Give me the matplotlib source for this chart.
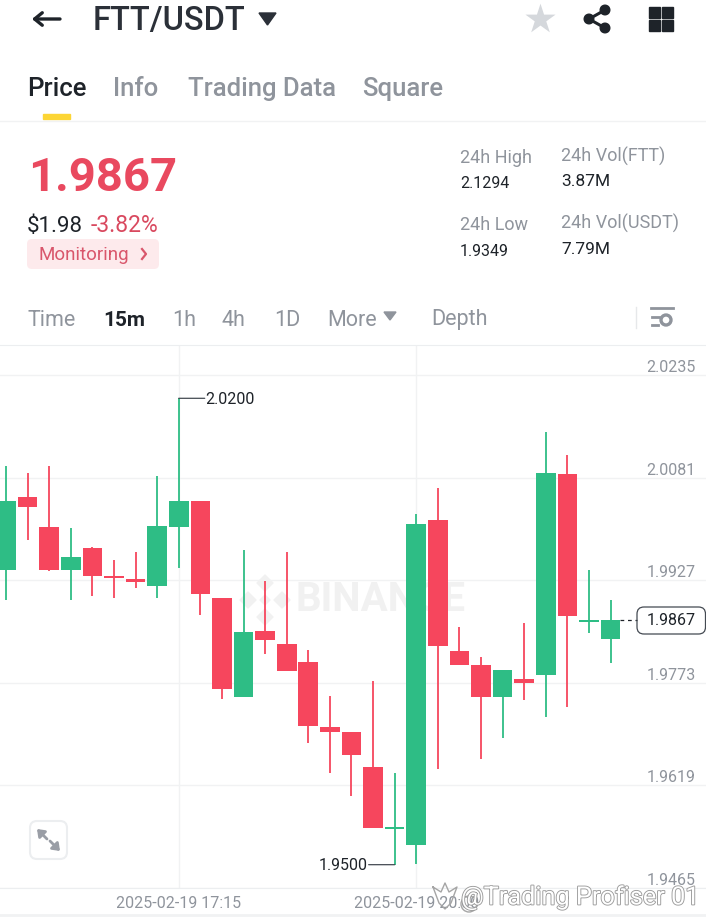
import matplotlib
matplotlib.use("Agg")
from matplotlib import pyplot as plt
from matplotlib.patches import FancyBboxPatch, Rectangle, Circle, Polygon
import matplotlib.patheffects as pe

# candle data
opens = [1.9943, 2.0052, 2.0007, 1.9942, 1.9976, 1.9933, 1.9929, 1.9918, 2.0007, 2.0046,
         1.9900, 1.9752, 1.9850, 1.9831, 1.9804, 1.9707, 1.9699, 1.9647, 1.9554, 1.9530,
         2.0017, 1.9821, 1.9800, 1.9751, 1.9778, 1.9784, 2.0087, 1.9864, 1.9839]
closes = [2.0046, 2.0037, 1.9942, 1.9962, 1.9933, 1.9931, 1.9925, 2.0009, 2.0046, 1.9906,
          1.9763, 1.9849, 1.9837, 1.9790, 1.9708, 1.9699, 1.9664, 1.9555, 1.9556, 2.0012,
          1.9828, 1.9800, 1.9751, 1.9792, 1.9773, 2.0088, 1.9873, 1.9867, 1.9867]
highs = [2.0099, 2.0088, 2.0099, 2.0005, 1.9977, 1.9957, 1.9970, 2.0084, 2.0200, 2.0046,
         1.9900, 1.9973, 1.9926, 1.9969, 1.9822, 1.9753, 1.9699, 1.9776, 1.9638, 2.0026,
         2.0065, 1.9857, 1.9812, 1.9792, 1.9862, 2.0149, 2.0115, 1.9942, 1.9897]
lows = [1.9898, 1.9988, 1.9941, 1.9898, 1.9903, 1.9900, 1.9916, 1.9901, 1.9945, 1.9875,
        1.9749, 1.9751, 1.9816, 1.9790, 1.9683, 1.9637, 1.9603, 1.9555, 1.9500, 1.9501,
        1.9644, 1.9800, 1.9658, 1.9690, 1.9747, 1.9721, 1.9737, 1.9848, 1.9802]
price_ticks = [2.0235, 2.0081, 1.9927, 1.9773, 1.9619, 1.9465]
date_ticks = [8, 19]
date_labels = ["2025-02-19 17:15", "2025-02-19 20:00"]

plt.rcParams['font.family'] = ['Roboto', 'DejaVu Sans']

GREEN = "#2ebd85"
RED = "#f6465d"
DARK = "#1e2329"
GRAY = "#8f949c"
LINE = "#f1f2f3"

fig = plt.figure(figsize=(7.06, 9.19), dpi=100, facecolor="white")

# page furniture, drawn in pixel coordinates
ui = fig.add_axes([0, 0, 1, 1])
ui.set_xlim(0, 706)
ui.set_ylim(919, 0)
ui.axis("off")

# header
ui.annotate("", xy=(32, 19), xytext=(60, 19),
            arrowprops=dict(arrowstyle="->,head_length=0.55,head_width=0.45", color=DARK, lw=2.4,
                            shrinkA=0, shrinkB=0))
ui.text(93, 21, "FTT/USDT", fontsize=23.5, fontweight="medium", color="#2b3038", va="center")
ui.add_patch(Polygon([(259, 13), (276, 13), (267.5, 25)], color="#2b3038"))
ui.scatter([540], [19], marker="*", s=520, color="#d5d8dc", linewidths=0)
share = [(589, 19), (605, 10), (605, 28)]
ui.plot([605, 589, 605], [10, 19, 28], color=DARK, lw=2.2)
for p in share:
    ui.add_patch(Circle(p, 4.8, color=DARK))
for gx, gy in [(649, 7), (662, 7), (649, 20), (662, 20)]:
    ui.add_patch(Rectangle((gx, gy), 11, 11, color=DARK))

# tabs
ui.text(27, 89, "Price", fontsize=18.5, fontweight="medium", color=DARK, va="center")
ui.text(113, 89, "Info", fontsize=18.5, fontweight="medium", color=GRAY, va="center")
ui.text(188, 89, "Trading Data", fontsize=18.5, fontweight="medium", color=GRAY, va="center")
ui.text(362, 89, "Square", fontsize=18.5, fontweight="medium", color=GRAY, va="center")
ui.add_patch(Rectangle((43, 114), 27, 5, color="#fcd535"))
ui.plot([0, 706], [120.5, 120.5], color=LINE, lw=1)

# price block
ui.text(28, 178, "1.9867", fontsize=34, fontweight="bold", color="#e9495f", va="center")
ui.text(27, 226, "$1.98", fontsize=16, color=DARK, va="center")
ui.text(91, 226, "-3.82%", fontsize=16.5, color="#d9495f", va="center")
ui.add_patch(FancyBboxPatch((30, 242), 126, 24, boxstyle="round,pad=3,rounding_size=5",
                            fc="#fdeaec", ec="none"))
ui.text(38, 255, "Monitoring", fontsize=13.5, color="#d9566b", va="center")
ui.plot([142, 146, 142], [249, 254, 259], color="#d9566b", lw=1.6)

ui.text(460, 158, "24h High", fontsize=13, color=GRAY, va="center")
ui.text(460, 184, "2.1294", fontsize=11.5, color=DARK, va="center")
ui.text(460, 225, "24h Low", fontsize=13, color=GRAY, va="center")
ui.text(460, 251, "1.9349", fontsize=11.5, color=DARK, va="center")
ui.text(561, 156, "24h Vol(FTT)", fontsize=13, color=GRAY, va="center")
ui.text(561, 182, "3.87M", fontsize=12.5, color=DARK, va="center")
ui.text(561, 223, "24h Vol(USDT)", fontsize=13, color=GRAY, va="center")
ui.text(561, 249, "7.79M", fontsize=12.5, color=DARK, va="center")

# interval row
ui.text(27, 320, "Time", fontsize=15.5, color=GRAY, va="center")
ui.text(103, 320, "15m", fontsize=15, fontweight="bold", color=DARK, va="center")
ui.text(172, 320, "1h", fontsize=15.5, color=GRAY, va="center")
ui.text(222, 320, "4h", fontsize=15.5, color=GRAY, va="center")
ui.text(274, 320, "1D", fontsize=15.5, color=GRAY, va="center")
ui.text(327, 320, "More", fontsize=15.5, color=GRAY, va="center")
ui.add_patch(Polygon([(384, 312), (396, 312), (390, 320)], color=GRAY))
ui.text(431, 320, "Depth", fontsize=15.5, color=GRAY, va="center")
ui.plot([636, 636], [307, 328], color="#e6e8ea", lw=1)
ui.plot([651, 673], [308, 308], color=GRAY, lw=2)
ui.plot([652, 659], [317, 317], color=GRAY, lw=2)
ui.plot([652, 658], [325, 325], color=GRAY, lw=2)
ui.add_patch(Circle((666, 320), 5, fc="white", ec=GRAY, lw=2.4))

# chart itself
ax = fig.add_axes([0, (919 - 888) / 919, 1, (888 - 345) / 919])
ax.patch.set_alpha(0)
ax.set_xlim(-0.278, 32.42)
ax.set_ylim(1.9465, 2.0280)
for side in ["left", "right"]:
    ax.spines[side].set_visible(False)
for side in ["top", "bottom"]:
    ax.spines[side].set_color("#eceef0")
ax.grid(True, color=LINE, lw=1)
ax.set_axisbelow(True)

ax.yaxis.tick_right()
ax.set_yticks(price_ticks)
ax.set_yticklabels(["%.4f" % p for p in price_ticks], ha="right", va="bottom")
ax.tick_params(axis="y", length=0, pad=-7.3, labelsize=11.5, labelcolor=GRAY)
ax.set_xticks(date_ticks)
ax.set_xticklabels(date_labels)
ax.tick_params(axis="x", length=0, pad=6, labelsize=11.5, labelcolor=GRAY)

# BINANCE watermark behind the candles
ax.text(0.418, 0.530, "BINANCE", transform=ax.transAxes, fontsize=29, fontweight="bold",
        color="#f1f1f1", va="center", zorder=1)
for dx, dy in [(0, -17), (0, 17), (-17, 0), (17, 0)]:
    ui.add_patch(Polygon([(265 + dx, 600 + dy - 8), (265 + dx + 8, 600 + dy),
                          (265 + dx, 600 + dy + 8), (265 + dx - 8, 600 + dy)], color="#f1f1f1"))
ui.add_patch(Polygon([(265, 595), (270, 600), (265, 605), (260, 600)], color="#f1f1f1"))

for i in range(len(opens)):
    o, c, h, l = opens[i], closes[i], highs[i], lows[i]
    col = GREEN if c >= o else RED
    ax.vlines(i, l, h, color=col, lw=1.3, zorder=3)
    body = abs(c - o)
    ax.bar(i, body, bottom=min(o, c), width=0.91, color=col, linewidth=0, zorder=4)

# high / low callouts
callout = dict(arrowstyle="-", color="#444a52", lw=0.9, shrinkA=0, shrinkB=0)
ax.annotate("", xy=(8, max(highs)), xytext=(26, 0), textcoords="offset pixels", arrowprops=callout)
ax.annotate("2.0200", xy=(8, max(highs)), xytext=(27, -1), textcoords="offset pixels", fontsize=11.5,
            color=DARK, va="center", zorder=5)
ax.annotate("", xy=(18, min(lows)), xytext=(-26, 0), textcoords="offset pixels", arrowprops=callout)
ax.annotate("1.9500", xy=(18, min(lows)), xytext=(-27, -1), textcoords="offset pixels", fontsize=11.5,
            color=DARK, va="center", ha="right", zorder=5)

# last price tag
ax.plot([28.45, 29.23], [closes[-1], closes[-1]], color=DARK, lw=0.9, ls=(0, (3, 3)), zorder=3)
ax.annotate("%.4f" % closes[-1], xy=(30.8, closes[-1]), ha="center", va="center", fontsize=11.5,
            color=DARK, zorder=6)

# expand button
ui.add_patch(FancyBboxPatch((34, 825), 29, 30, boxstyle="round,pad=4,rounding_size=7",
                            fc="white", ec="#eceef0", lw=1.5, zorder=8))
ui.annotate("", xy=(37, 829), xytext=(47, 839), zorder=9,
            arrowprops=dict(arrowstyle="-|>,head_length=0.4,head_width=0.3", color="#9a9ea6", lw=2,
                            shrinkA=0, shrinkB=0))
ui.annotate("", xy=(60, 851), xytext=(50, 841), zorder=9,
            arrowprops=dict(arrowstyle="-|>,head_length=0.4,head_width=0.3", color="#9a9ea6", lw=2,
                            shrinkA=0, shrinkB=0))

ui.plot([0, 706], [915, 915], color="#f1f2f3", lw=2)

# repost watermark on top of everything
over = fig.add_axes([0, 0, 1, 1])
over.patch.set_alpha(0)
over.set_xlim(0, 706)
over.set_ylim(919, 0)
over.axis("off")
over.add_patch(FancyBboxPatch((641, 611), 60.5, 19, boxstyle="round,pad=4,rounding_size=7",
                              fc="none", ec="#444a52", lw=0.9))
outline = [pe.withStroke(linewidth=1.3, foreground="#9b9b9b")]
over.text(461, 897, "@Trading Profiser 01", fontsize=18.2, color="white", va="center",
          path_effects=outline)
over.add_patch(Circle((469, 904), 8, fc="none", ec="#a5a5a5", lw=1))
over.plot([433, 441, 445, 449, 457, 451, 445, 439, 433], [887, 892, 883, 892, 887, 903, 909, 903, 887],
          color="#a5a5a5", lw=1)

fig.savefig("out.png", dpi=100)
